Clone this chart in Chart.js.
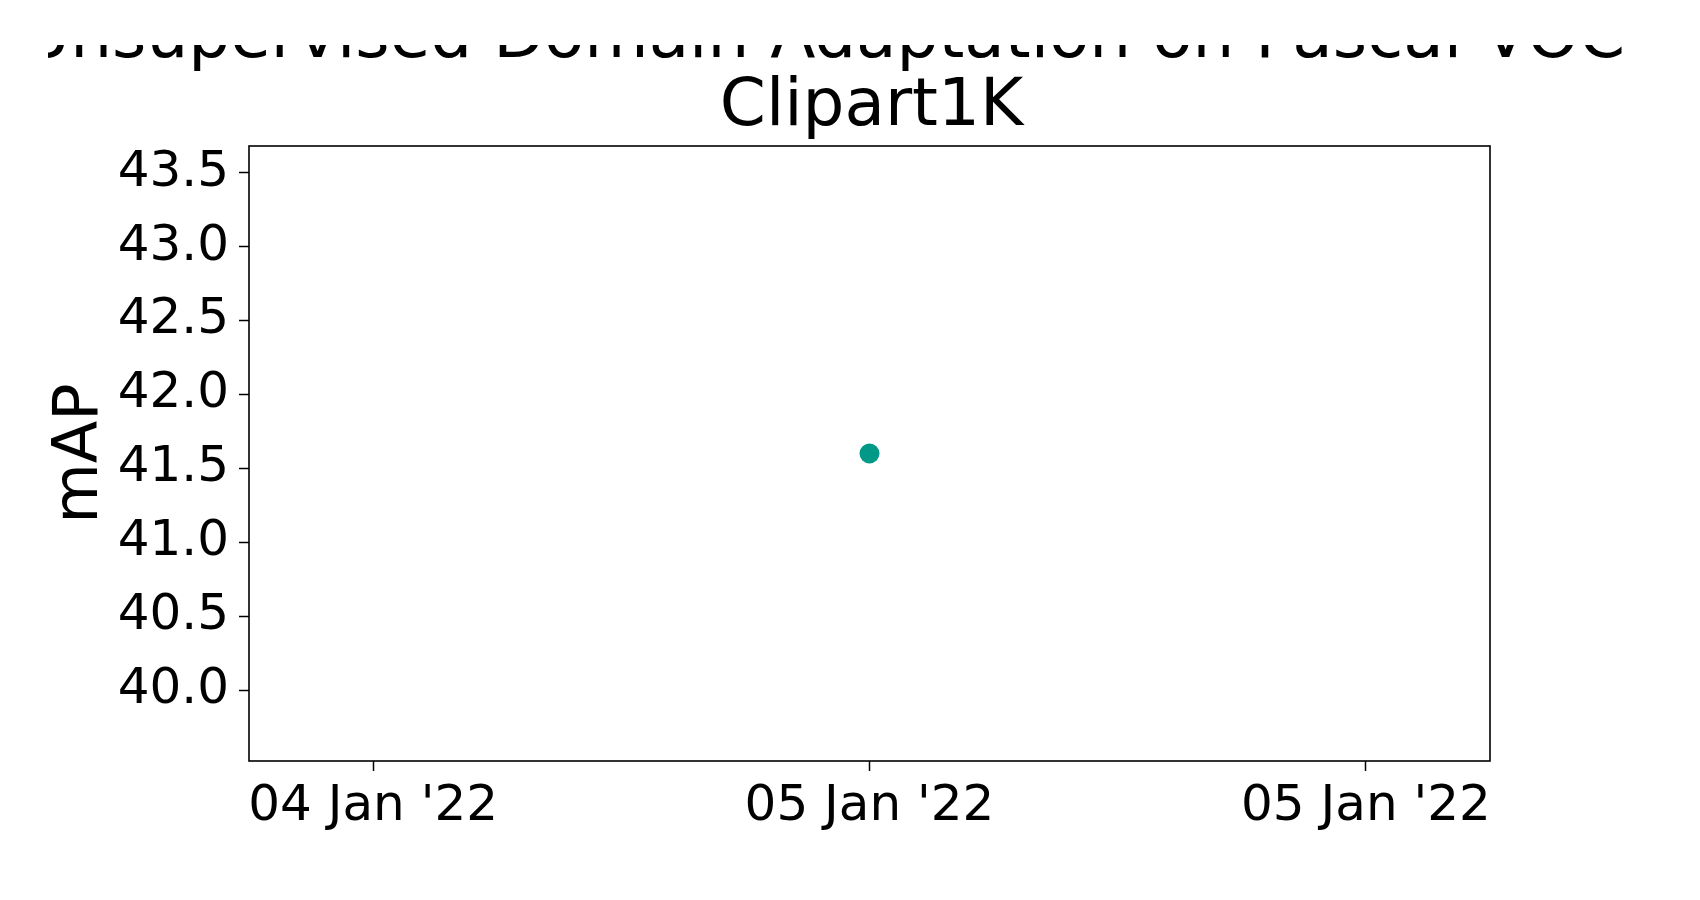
<!DOCTYPE html>
<html>
<head>
<meta charset="utf-8">
<script src="https://cdn.jsdelivr.net/npm/chart.js@4"></script>
<style>
  html, body { margin: 0; padding: 0; background: #ffffff; }
  #wrap { position: relative; width: 1700px; height: 900px; background: #ffffff; }
  #c { display: block; clip-path: inset(45px 0 0 48px); }
</style>
</head>
<body>
<div id="wrap"><canvas id="c" width="1700" height="900"></canvas></div>
<script>
// ---- data ----
const titleLines = ["Unsupervised Domain Adaptation on Pascal VOC", "Clipart1K"];
const yAxisLabel = "mAP";
const pointDates = ["2022-01-05T00:00:00Z"];
const pointValues = [41.6];
const xTickDates = ["2022-01-04T12:00:00Z", "2022-01-05T00:00:00Z", "2022-01-05T12:00:00Z"];
const xTickLabels = ["04 Jan '22", "05 Jan '22", "05 Jan '22"];
const yTicks = [40.0, 40.5, 41.0, 41.5, 42.0, 42.5, 43.0, 43.5];

// ---- derived ----
const pts = pointDates.map((d, i) => ({ x: Date.parse(d), y: pointValues[i] }));
const xTickVals = xTickDates.map(d => Date.parse(d));
const step = xTickVals[1] - xTickVals[0];
const xCenter = pts[0].x;
const yCenter = pts[0].y;
const ySpread = Math.abs(yCenter) * 0.05;

const FONT = "'DejaVu Sans', sans-serif";

const framePlugin = {
  id: 'frame',
  afterDraw(chart) {
    const a = chart.chartArea, ctx = chart.ctx;
    ctx.save();
    ctx.strokeStyle = '#000000';
    ctx.lineWidth = 1.6;
    ctx.strokeRect(a.left, a.top, a.right - a.left, a.bottom - a.top);
    ctx.restore();
  }
};

// centre the title lines over the plot area instead of the padded box
const titleCentrePlugin = {
  id: 'titleCentre',
  afterLayout(chart) {
    const a = chart.chartArea;
    const plotMid = (a.left + a.right) / 2;
    chart.boxes.forEach(b => {
      if (!b.options || b.options.text === undefined) return;
      let cx = null;
      if (b.options.text === titleLines[0]) cx = plotMid - 46;
      else if (b.options.text === titleLines[1]) cx = plotMid + 2;
      if (cx === null) return;
      b.left = cx - 900;
      b.right = cx + 900;
      b.width = 1800;
    });
  }
};

new Chart(document.getElementById('c'), {
  type: 'scatter',
  data: {
    datasets: [{
      data: pts,
      backgroundColor: '#009988',
      borderColor: '#009988',
      borderWidth: 0,
      pointRadius: 10,
      pointHoverRadius: 10,
      showLine: false
    }]
  },
  plugins: [framePlugin, titleCentrePlugin],
  options: {
    responsive: false,
    animation: false,
    devicePixelRatio: 1,
    layout: { padding: { left: 0, right: 210, top: 0, bottom: 0 } },
    plugins: {
      legend: { display: false },
      tooltip: { enabled: false },
      title: {
        display: true,
        text: titleLines[0],
        color: '#000000',
        font: { family: FONT, size: 66, weight: 'normal', lineHeight: 68 / 66 },
        padding: { top: 6, bottom: 0 }
      },
      subtitle: {
        display: true,
        text: titleLines[1],
        color: '#000000',
        font: { family: FONT, size: 66, weight: 'normal', lineHeight: 68 / 66 },
        padding: { top: 0, bottom: 4 }
      }
    },
    scales: {
      x: {
        type: 'linear',
        min: xCenter - 1.25 * step,
        max: xCenter + 1.25 * step,
        afterBuildTicks(scale) { scale.ticks = xTickVals.map(v => ({ value: v })); },
        afterFit(scale) { scale.height = 139; },
        ticks: {
          color: '#000000',
          font: { family: FONT, size: 50 },
          padding: 6,
          maxRotation: 0,
          autoSkip: false,
          callback(value, index) { return xTickLabels[index]; }
        },
        grid: { display: true, drawOnChartArea: false, drawTicks: true, tickLength: 10, tickColor: '#000000', tickWidth: 1.5 },
        border: { display: false }
      },
      y: {
        type: 'linear',
        min: yCenter - ySpread,
        max: yCenter + ySpread,
        afterBuildTicks(scale) { scale.ticks = yTicks.map(v => ({ value: v })); },
        afterFit(scale) { scale.width = 249; },
        ticks: {
          color: '#000000',
          font: { family: FONT, size: 50 },
          padding: 10,
          autoSkip: false,
          callback(value) { return Number(value).toFixed(1); }
        },
        title: {
          display: true,
          text: yAxisLabel,
          color: '#000000',
          font: { family: FONT, size: 62 },
          padding: { top: 44, bottom: 0 }
        },
        grid: { display: true, drawOnChartArea: false, drawTicks: true, tickLength: 10, tickColor: '#000000', tickWidth: 1.5 },
        border: { display: false }
      }
    }
  }
});
</script>
</body>
</html>
